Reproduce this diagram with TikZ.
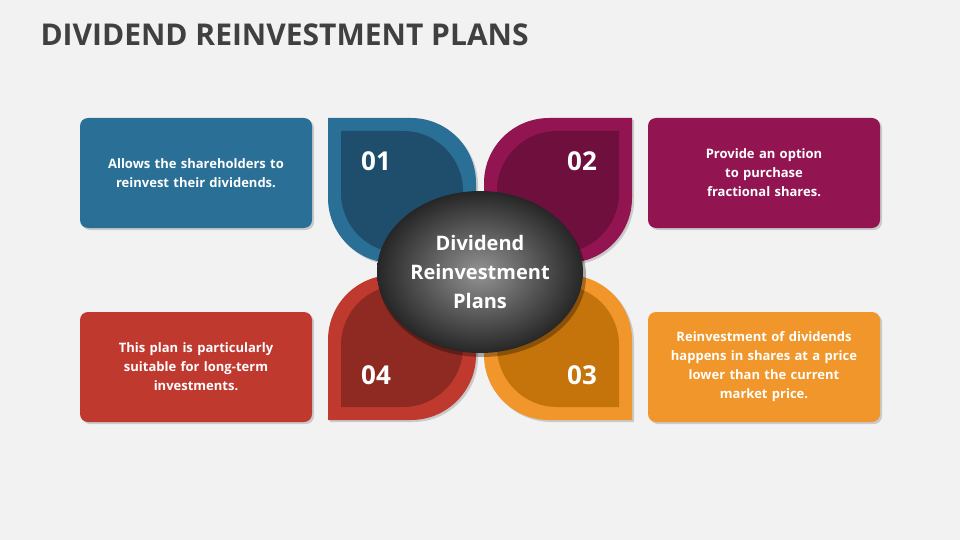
\documentclass[tikz,border=0pt]{standalone}
\usepackage{fontspec}
\setmainfont{Open Sans}
\usetikzlibrary{shadows}
\definecolor{bg}{HTML}{F2F2F2}
\definecolor{cA}{HTML}{2A6F96}\definecolor{dA}{HTML}{1F4E6C}
\definecolor{cB}{HTML}{921552}\definecolor{dB}{HTML}{6E0F3E}
\definecolor{cC}{HTML}{C0392F}\definecolor{dC}{HTML}{8E2A22}
\definecolor{cD}{HTML}{F0962A}\definecolor{dD}{HTML}{C5740C}
\tikzset{x=1pt,y=1pt,
 infobox/.style={rounded corners=8pt,minimum width=232pt,minimum height=110pt,text width=200pt,align=center,text=white,font=\fontsize{13}{19}\selectfont\bfseries,drop shadow={opacity=0.35,shadow xshift=2pt,shadow yshift=-2pt}},
 num/.style={text=white,font=\fontsize{26}{30}\selectfont\bfseries},
 pshadow/.style={drop shadow={opacity=0.35,shadow xshift=2pt,shadow yshift=-2pt}}}
\newcommand{\petalpath}{(0,0)--(83,0) arc(90:0:65) -- (148,-145) -- (65,-145) arc(270:180:65) -- cycle}
\newcommand{\innerpath}{(13,-13)--(75,-13) arc(90:0:60) -- (135,-135) -- (73,-135) arc(270:180:60) -- cycle}
\begin{document}
\begin{tikzpicture}
\fill[bg] (0,0) rectangle (960,-540);
\useasboundingbox (0,0) rectangle (960,-540);
\node[anchor=west,text=black!75,font=\fontsize{30}{34}\selectfont\bfseries] (title) at (37,-35) {DIVIDEND REINVESTMENT PLANS};
% petals
\begin{scope}[shift={(328,-118)}]
 \fill[cA,pshadow] \petalpath; \fill[dA] \innerpath;
\end{scope}
\begin{scope}[shift={(632,-118)},xscale=-1]
 \fill[cB,pshadow] \petalpath; \fill[dB] \innerpath;
\end{scope}
\begin{scope}[shift={(328,-420)},yscale=-1]
 \fill[cC,pshadow] \petalpath; \fill[dC] \innerpath;
\end{scope}
\begin{scope}[shift={(632,-420)},xscale=-1,yscale=-1]
 \fill[cD,pshadow] \petalpath; \fill[dD] \innerpath;
\end{scope}
\node[num] (n1) at (376,-161) {01};
\node[num] (n2) at (582,-161) {02};
\node[num] (n4) at (376,-375) {04};
\node[num] (n3) at (582,-375) {03};
% center
\fill[black,opacity=0.3] (482,-276) ellipse (104 and 81);
\shade[inner color=gray!85,outer color=black!85] (480,-272) ellipse (103 and 81);
\node[text=white,align=center,font=\fontsize{20}{29}\selectfont\bfseries] (center) at (480,-272) {Dividend\\Reinvestment\\Plans};
% boxes
\node[infobox,fill=cA] (b1) at (196,-173) {Allows the shareholders to\\reinvest their dividends.};
\node[infobox,fill=cB] (b2) at (764,-173) {Provide an option\\to purchase\\fractional shares.};
\node[infobox,fill=cC] (b4) at (196,-367) {This plan is particularly\\suitable for long-term\\investments.};
\node[infobox,fill=cD] (b3) at (764,-367) {Reinvestment of dividends\\happens in shares at a price\\lower than the current\\market price.};
\end{tikzpicture}
\end{document}
